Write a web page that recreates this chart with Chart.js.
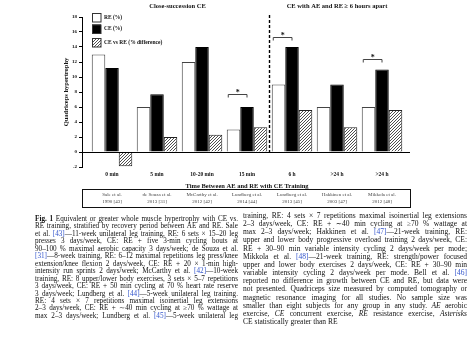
<!DOCTYPE html>
<html>
<head>
<meta charset="utf-8">
<script src="https://cdn.jsdelivr.net/npm/chart.js@4.4.1/dist/chart.umd.min.js"></script>
<style>
  html, body { margin: 0; padding: 0; background: #fff; }
  #wrap { position: relative; width: 474px; height: 339px; overflow: hidden; }
  #chart { position: absolute; left: 0; top: 0; }
  .col { position: absolute; font-family: "Liberation Serif", "DejaVu Serif", serif; color: #111; }
  .col div { text-align: justify; text-align-last: justify; }
  .col div.last { text-align-last: left; }
  .ref { color: #3355cc; }
</style>
</head>
<body>
<div id="wrap">
  <canvas id="chart" width="474" height="339"></canvas>
  <div class="col" id="capLeft" style="left:35px; top:216px; width:203px; font-size:7.2px; line-height:7.46px;">
    <div><b>Fig. 1</b> Equivalent or greater whole muscle hypertrophy with CE vs.</div>
    <div>RE training, stratified by recovery period between AE and RE. Sale</div>
    <div>et al. <span class="ref">[43]</span>—11-week unilateral leg training, RE: 6 sets × 15–20 leg</div>
    <div>presses 3 days/week, CE: RE + five 3-min cycling bouts at</div>
    <div>90–100 % maximal aerobic capacity 3 days/week; de Souza et al.</div>
    <div><span class="ref">[31]</span>—8-week training, RE: 6–12 maximal repetitions leg press/knee</div>
    <div>extension/knee flexion 2 days/week, CE: RE + 20 × 1-min high-</div>
    <div>intensity run sprints 2 days/week; McCarthy et al. <span class="ref">[42]</span>—10-week</div>
    <div>training, RE: 8 upper/lower body exercises, 3 sets × 5–7 repetitions</div>
    <div>3 days/week, CE: RE + 50 min cycling at 70 % heart rate reserve</div>
    <div>3 days/week; Lundberg et al. <span class="ref">[44]</span>—5-week unilateral leg training.</div>
    <div>RE: 4 sets × 7 repetitions maximal isoinertial leg extensions</div>
    <div>2–3 days/week, CE: RE + ∼40 min cycling at ≥70 % wattage at</div>
    <div>max 2–3 days/week; Lundberg et al. <span class="ref">[45]</span>—5-week unilateral leg</div>
  </div>
  <div class="col" id="capRight" style="left:243px; top:212px; width:224px; font-size:7.5px; line-height:8.15px;">
    <div>training, RE: 4 sets × 7 repetitions maximal isoinertial leg extensions</div>
    <div>2–3 days/week, CE: RE + ∼40 min cycling at ≥70 % wattage at</div>
    <div>max 2–3 days/week; Hakkinen et al. <span class="ref">[47]</span>—21-week training, RE:</div>
    <div>upper and lower body progressive overload training 2 days/week, CE:</div>
    <div>RE + 30–90 min variable intensity cycling 2 days/week per mode;</div>
    <div>Mikkola et al. <span class="ref">[48]</span>—21-week training, RE: strength/power focused</div>
    <div>upper and lower body exercises 2 days/week, CE: RE + 30–90 min</div>
    <div>variable intensity cycling 2 days/week per mode. Bell et al. <span class="ref">[46]</span></div>
    <div>reported no difference in growth between CE and RE, but data were</div>
    <div>not presented. Quadriceps size measured by computed tomography or</div>
    <div>magnetic resonance imaging for all studies. No sample size was</div>
    <div>smaller than eight subjects for any group in any study. <i>AE</i> aerobic</div>
    <div>exercise, <i>CE</i> concurrent exercise, <i>RE</i> resistance exercise, <i>Asterisks</i></div>
    <div class="last">CE statistically greater than RE</div>
  </div>
</div>
<script>
// Chart data
const categories = ['0 min', '5 min', '10-20 min', '15 min', '6 h', '>24 h', '>24 h'];
const reValues = [13, 6, 12, 3, 9, 6, 6];
const ceValues = [11.2, 7.7, 14, 6, 14, 9, 11];
const diffValues = [-1.9, 2, 2.3, 3.3, 5.6, 3.3, 5.6];
const sigBracket = [null, null, null, 7.8, 15.3, null, 12.4]; // asterisk bracket height
const studyNames = ['Sale et al.', 'de Souza et al.', 'McCarthy et al.', 'Lundberg et al.', 'Lundberg et al.', 'Hakkinen et al.', 'Mikkola et al.'];
const studyYears = ['1990 [43]', '2013 [31]', '2012 [42]', '2014 [44]', '2013 [45]', '2003 [47]', '2012 [48]'];
const legendLabels = ['RE (%)', 'CE (%)', 'CE vs RE (% difference)'];
const groupTitles = ['Close-succession CE', 'CE with AE and RE \u2265 6 hours apart'];

const SERIF = '"Liberation Serif", "DejaVu Serif", serif';

// squeeze caption lines that would not fit on one line
document.querySelectorAll('.col div').forEach(d => {
    const target = d.parentNode.clientWidth;
    d.style.whiteSpace = 'nowrap';
    d.style.display = 'inline-block';
    const w = d.offsetWidth;
    d.style.whiteSpace = '';
    d.style.display = '';
    if (w > target - 1) {
        const n = d.textContent.length;
        d.style.letterSpacing = ((target - 1 - w) / n).toFixed(3) + 'px';
    }
});

// diagonal hatch pattern
function makeHatch() {
    const c = document.createElement('canvas');
    c.width = 3; c.height = 3;
    const g = c.getContext('2d');
    g.fillStyle = '#fff';
    g.fillRect(0, 0, 3, 3);
    g.strokeStyle = '#222';
    g.lineWidth = 0.8;
    g.beginPath();
    g.moveTo(-1, 4); g.lineTo(4, -1);
    g.moveTo(-1, 1); g.lineTo(1, -1);
    g.moveTo(2, 4); g.lineTo(4, 2);
    g.stroke();
    return document.getElementById('chart').getContext('2d').createPattern(c, 'repeat');
}
const hatch = makeHatch();

const toPoints = arr => arr.map((v, i) => ({ x: i, y: v }));

const extras = {
    id: 'extras',
    afterDatasetsDraw(chart) {
        const ctx = chart.ctx;
        const xs = chart.scales.x, ys = chart.scales.y;
        const area = chart.chartArea;
        ctx.save();

        // zero line
        const y0 = Math.round(ys.getPixelForValue(0)) + 0.5;
        ctx.strokeStyle = '#000';
        ctx.lineWidth = 1;
        ctx.beginPath();
        ctx.moveTo(area.left, y0);
        ctx.lineTo(area.right, y0);
        ctx.stroke();

        // dashed separator
        const xd = xs.getPixelForValue(3.5);
        ctx.setLineDash([3, 2]);
        ctx.lineWidth = 1.4;
        ctx.beginPath();
        ctx.moveTo(xd, 15);
        ctx.lineTo(xd, y0);
        ctx.stroke();
        ctx.setLineDash([]);

        // significance brackets
        const reMeta = chart.getDatasetMeta(0), ceMeta = chart.getDatasetMeta(1);
        ctx.strokeStyle = '#444';
        ctx.lineWidth = 1;
        ctx.fillStyle = '#111';
        sigBracket.forEach((v, i) => {
            if (v === null) return;
            const reBar = reMeta.data[i], ceBar = ceMeta.data[i];
            const x1 = reBar.x - reBar.width / 2 + 1.5;
            const x2 = ceBar.x;
            const yb = Math.round(ys.getPixelForValue(v)) + 0.5;
            ctx.beginPath();
            ctx.moveTo(x1, yb + 3); ctx.lineTo(x1, yb); ctx.lineTo(x2, yb); ctx.lineTo(x2, yb + 3);
            ctx.stroke();
            ctx.font = 'bold 8px ' + SERIF;
            ctx.textAlign = 'center';
            ctx.textBaseline = 'middle';
            ctx.fillText('*', (x1 + x2) / 2, yb - 2);
        });

        // legend
        const fills = ['#fff', '#000', hatch];
        const boxY = [13, 24.5, 38];
        ctx.font = 'bold 5.5px ' + SERIF;
        ctx.textAlign = 'left';
        ctx.textBaseline = 'middle';
        legendLabels.forEach((lab, i) => {
            ctx.fillStyle = fills[i];
            ctx.fillRect(92, boxY[i], 9, 9);
            ctx.strokeStyle = '#333';
            ctx.strokeRect(92.5, boxY[i] + 0.5, 8.5, 8.5);
            ctx.fillStyle = '#111';
            ctx.fillText(lab, 104, boxY[i] + 4.5);
        });

        // group titles
        ctx.font = 'bold 6.5px ' + SERIF;
        ctx.textAlign = 'center';
        ctx.fillStyle = '#111';
        ctx.fillText(groupTitles[0], (xs.getPixelForValue(1) + xs.getPixelForValue(2)) / 2 - 2, 6);
        ctx.fillText(groupTitles[1], xs.getPixelForValue(5), 6);

        // x title
        ctx.fillText('Time Between AE and RE with CE Training', xs.getPixelForValue(3), 186);

        // study table
        ctx.strokeStyle = '#111';
        ctx.lineWidth = 1;
        ctx.strokeRect(area.left + 0.5, 189.5, area.right - area.left, 18);
        ctx.font = '5px ' + SERIF;
        ctx.fillStyle = '#444';
        studyNames.forEach((n, i) => {
            const x = xs.getPixelForValue(i);
            ctx.fillText(n, x, 195);
            ctx.fillText(studyYears[i], x, 201.5);
        });
        ctx.restore();
    }
};

new Chart(document.getElementById('chart'), {
    type: 'bar',
    data: {
        datasets: [
            { label: legendLabels[0], data: toPoints(reValues), backgroundColor: '#fff', borderColor: '#444', borderWidth: 1 },
            { label: legendLabels[1], data: toPoints(ceValues), backgroundColor: '#000', borderColor: '#000', borderWidth: 1 },
            { label: legendLabels[2], data: toPoints(diffValues), backgroundColor: hatch, borderColor: '#222', borderWidth: 1 }
        ]
    },
    options: {
        responsive: false,
        animation: false,
        categoryPercentage: 0.9,
        barPercentage: 1.0,
        layout: { padding: { left: 62, right: 64, top: 17, bottom: 0 } },
        plugins: { legend: { display: false }, tooltip: { enabled: false } },
        scales: {
            x: {
                type: 'linear',
                min: -0.667,
                max: 6.622,
                offset: false,
                afterBuildTicks: s => { s.ticks = categories.map((_, i) => ({ value: i })); },
                afterFit: s => { s.height = 172; },
                grid: { display: false, drawTicks: false, offset: false },
                border: { display: false },
                ticks: {
                    padding: 4,
                    autoSkip: false,
                    maxRotation: 0,
                    color: '#111',
                    font: { family: SERIF, size: 5.5, weight: 'bold' },
                    callback: v => categories[v]
                }
            },
            y: {
                min: -2,
                max: 18,
                afterFit: s => { s.width = 20; },
                ticks: {
                    stepSize: 2,
                    padding: 2,
                    color: '#111',
                    font: { family: SERIF, size: 5, weight: 'bold' }
                },
                grid: { drawOnChartArea: false, color: '#000', tickLength: 3 },
                border: { display: true, color: '#000', width: 1 },
                title: {
                    display: true,
                    text: 'Quadriceps hypertrophy',
                    color: '#111',
                    padding: 0,
                    font: { family: SERIF, size: 6.5, weight: 'bold' }
                }
            }
        }
    },
    plugins: [extras]
});
</script>
</body>
</html>
